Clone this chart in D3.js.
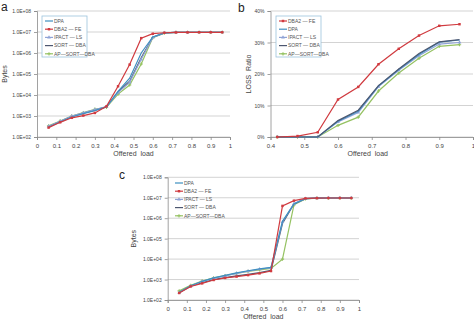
<!DOCTYPE html>
<html>
<head>
<meta charset="utf-8">
<script src="https://cdn.jsdelivr.net/npm/d3@7"></script>
<style>
  body { margin: 0; background: #fff; }
  svg { font-family: "Liberation Sans", Arial, sans-serif; }
  .grid line { stroke: #c8c8c8; stroke-width: 0.8; }
  .axis path, .axis line { stroke: #8a8a8a; stroke-width: 0.8; }
  .axis text { fill: #444; }
</style>
</head>
<body>
<svg id="chart" width="474" height="321"></svg>
<script>
const seriesNames = ["DPA", "DBA2 \u2014 FE", "IPACT \u2014 LS", "SORT \u2014 DBA", "AP\u2014SORT\u2014DBA"];
const seriesColors = ["#3f8fc0", "#d03a3f", "#8fa3d6", "#4d5770", "#95c262"];

// panel a : bytes vs offered load
const loadA = [0.06, 0.12, 0.18, 0.24, 0.30, 0.36, 0.42, 0.48, 0.54, 0.60, 0.66, 0.72, 0.78, 0.84, 0.90, 0.96];
const bytesA = [
  [300, 520, 900, 1300, 1800, 2700, 15000, 63000, 1000000, 5800000, 9000000, 9500000, 9600000, 9700000, 9700000, 9700000],
  [280, 500, 820, 1050, 1400, 2900, 26000, 280000, 5100000, 8300000, 9200000, 9500000, 9600000, 9700000, 9700000, 9700000],
  [320, 560, 980, 1400, 2000, 2800, 13000, 40000, 500000, 5500000, 9000000, 9500000, 9600000, 9700000, 9700000, 9700000],
  [310, 540, 950, 1350, 1900, 2750, 14000, 45000, 600000, 5600000, 9000000, 9500000, 9600000, 9700000, 9700000, 9700000],
  [340, 580, 1000, 1450, 2100, 2600, 11000, 30000, 300000, 5400000, 8800000, 9500000, 9600000, 9700000, 9700000, 9700000]
];

// panel b : loss ratio (%)
const loadB = [0.42, 0.48, 0.54, 0.60, 0.66, 0.72, 0.78, 0.84, 0.90, 0.96];
const lossB = [
  [0, 0, 0, 5.0, 8.2, 16.2, 21.4, 26.2, 30.1, 30.8],
  [0, 0.3, 1.5, 11.9, 15.9, 23.1, 28.0, 32.2, 35.3, 35.8],
  [0, 0, 0, 4.8, 7.8, 16.0, 21.2, 25.8, 29.5, 30.0],
  [0, 0, 0, 5.2, 8.5, 16.3, 21.6, 26.5, 30.2, 30.9],
  [0, 0, 0, 3.7, 6.3, 14.6, 20.3, 25.0, 28.8, 29.3]
];

// panel c : bytes vs offered load
const loadC = loadA;
const bytesC = [
  [240, 500, 820, 1200, 1600, 2100, 2700, 3300, 3900, 700000, 5000000, 9000000, 9600000, 9700000, 9700000, 9700000],
  [220, 460, 650, 950, 1200, 1400, 1650, 2000, 2600, 4000000, 7200000, 9300000, 9600000, 9700000, 9700000, 9700000],
  [230, 480, 800, 1150, 1500, 2000, 2600, 3200, 3800, 650000, 5200000, 9000000, 9600000, 9700000, 9700000, 9700000],
  [225, 470, 700, 1000, 1250, 1500, 1800, 2200, 2800, 550000, 5000000, 9000000, 9600000, 9700000, 9700000, 9700000],
  [280, 520, 850, 1200, 1550, 2000, 2500, 3000, 3500, 10000, 4500000, 8800000, 9600000, 9700000, 9700000, 9700000]
];

const xTicks01 = [0, 0.1, 0.2, 0.3, 0.4, 0.5, 0.6, 0.7, 0.8, 0.9, 1];
const xTicksB = [0.4, 0.5, 0.6, 0.7, 0.8, 0.9, 1];
const logTicks = [1e2, 1e3, 1e4, 1e5, 1e6, 1e7, 1e8];
const logLabels = ["1.0E+02", "1.0E+03", "1.0E+04", "1.0E+05", "1.0E+06", "1.0E+07", "1.0E+08"];
const lossTicks = [0, 10, 20, 30, 40];

const svg = d3.select("#chart");

function markerShape(i) {
  if (i === 1) return d3.symbolSquare;
  if (i === 2) return d3.symbolTriangle;
  if (i === 4) return d3.symbolCross;
  return null;
}

function drawPanel(opt) {
  const g = svg.append("g");
  const x = d3.scaleLinear().domain(opt.xDomain).range([opt.left, opt.right]);
  const y = opt.log
    ? d3.scaleLog().domain([1e2, 1e8]).range([opt.bottom, opt.top])
    : d3.scaleLinear().domain([0, 40]).range([opt.bottom, opt.top]);

  // horizontal grid
  g.append("g").attr("class", "grid")
    .selectAll("line").data(opt.yTicks).enter().append("line")
    .attr("x1", opt.left).attr("x2", opt.right)
    .attr("y1", function(d) { return y(d); })
    .attr("y2", function(d) { return y(d); });

  const yAxis = d3.axisLeft(y).tickValues(opt.yTicks).tickSize(3)
    .tickFormat(function(d, i) { return opt.yLabels[i]; });
  g.append("g").attr("class", "axis")
    .attr("transform", "translate(" + opt.left + ",0)")
    .call(yAxis)
    .call(function(a) { a.selectAll("text").style("font-size", "5px"); });

  const xAxis = d3.axisBottom(x).tickValues(opt.xTicks).tickSize(3).tickPadding(4)
    .tickFormat(function(d) { return d === 0 || d === 1 ? d : d.toFixed(1); });
  g.append("g").attr("class", "axis")
    .attr("transform", "translate(0," + opt.bottom + ")")
    .call(xAxis)
    .call(function(a) { a.selectAll("text").style("font-size", "6px"); });

  const line = d3.line()
    .x(function(d) { return x(d[0]); })
    .y(function(d) { return y(d[1]); });

  opt.order.forEach(function(si) {
    const pts = opt.xs.map(function(v, k) { return [v, opt.values[si][k]]; });
    g.append("path").datum(pts)
      .attr("fill", "none")
      .attr("stroke", seriesColors[si])
      .attr("stroke-width", 1.2)
      .attr("d", line);
    const shape = markerShape(si);
    if (shape) {
      g.selectAll(null).data(pts).enter().append("path")
        .attr("transform", function(d) { return "translate(" + x(d[0]) + "," + y(d[1]) + ")"; })
        .attr("d", d3.symbol().type(shape).size(6))
        .attr("fill", seriesColors[si]);
    }
  });

  // legend
  const lg = g.append("g").attr("transform", "translate(" + opt.legend[0] + "," + opt.legend[1] + ")");
  if (opt.legendBox) {
    lg.append("rect").attr("x", 0).attr("y", 0).attr("width", 45).attr("height", 41)
      .attr("fill", "#fff").attr("stroke", "#9cc3dd").attr("stroke-width", 0.8);
  }
  opt.legendOrder.forEach(function(si, k) {
    const yy = 5 + k * 8.2;
    lg.append("line").attr("x1", 3).attr("x2", 11).attr("y1", yy).attr("y2", yy)
      .attr("stroke", seriesColors[si]).attr("stroke-width", 1.2);
    const shape = markerShape(si);
    if (shape) {
      lg.append("path").attr("transform", "translate(7," + yy + ")")
        .attr("d", d3.symbol().type(shape).size(6)).attr("fill", seriesColors[si]);
    }
    lg.append("text").attr("x", 12).attr("y", yy + 1.8)
      .style("font-size", "5px").attr("fill", "#555")
      .text(seriesNames[si]);
  });

  // titles
  g.append("text")
    .attr("x", (opt.left + opt.xTitleRight) / 2).attr("y", opt.bottom + 19)
    .attr("text-anchor", "middle").style("font-size", "7px").attr("fill", "#444")
    .text("Offered\u00a0\u00a0load");
  g.append("text")
    .attr("transform", "translate(" + opt.yTitleX + "," + ((opt.top + opt.bottom) / 2) + ") rotate(-90)")
    .attr("text-anchor", "middle").style("font-size", "7px").attr("fill", "#444")
    .text(opt.yTitle);
  g.append("text")
    .attr("x", opt.letter[0]).attr("y", opt.letter[1])
    .style("font-size", "12px").attr("fill", "#222")
    .text(opt.letterText);
}

drawPanel({
  left: 37, right: 230, top: 11, bottom: 137, log: true,
  xDomain: [0, 1], xTicks: xTicks01, yTicks: logTicks, yLabels: logLabels,
  xs: loadA, values: bytesA, order: [4, 3, 2, 0, 1],
  legend: [42, 16], legendBox: true, legendOrder: [0, 1, 2, 3, 4],
  yTitle: "Bytes", yTitleX: 7, xTitleRight: 230,
  letter: [1, 11], letterText: "a"
});

drawPanel({
  left: 270.5, right: 473, top: 11, bottom: 137, log: false,
  xDomain: [0.4, 1], xTicks: xTicksB, yTicks: lossTicks,
  yLabels: lossTicks.map(function(d) { return d + "%"; }),
  xs: loadB, values: lossB, order: [4, 2, 0, 3, 1],
  legend: [276, 16], legendBox: true, legendOrder: [1, 0, 2, 3, 4],
  yTitle: "LOSS\u00a0\u00a0Ratio", yTitleX: 251, xTitleRight: 465,
  letter: [238, 12], letterText: "b"
});

drawPanel({
  left: 167.7, right: 359, top: 177.3, bottom: 300, log: true,
  xDomain: [0, 1], xTicks: xTicks01, yTicks: logTicks, yLabels: logLabels,
  xs: loadC, values: bytesC, order: [4, 3, 2, 0, 1],
  legend: [172, 178], legendBox: false, legendOrder: [0, 1, 2, 3, 4],
  yTitle: "Bytes", yTitleX: 136, xTitleRight: 359,
  letter: [119, 179], letterText: "c"
});
</script>
</body>
</html>
